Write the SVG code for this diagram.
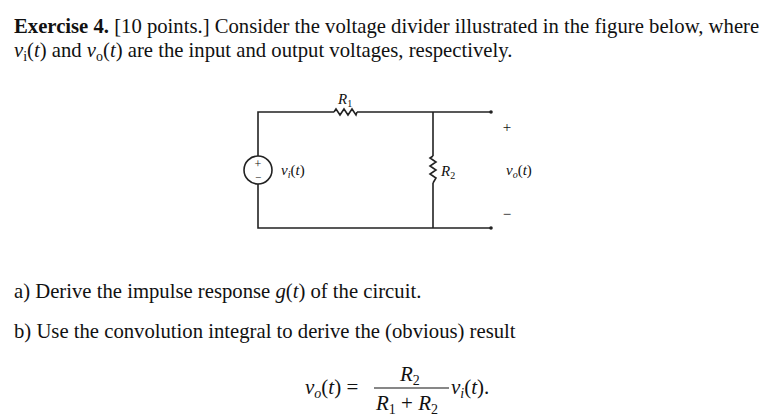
<svg xmlns="http://www.w3.org/2000/svg" width="772" height="420" viewBox="0 0 772 420">
<style>
text{font-family:"Liberation Serif",serif;fill:#111}
.t{font-size:20.7px}
.w{fill:none;stroke:#222;stroke-width:1.6}
.s{font-size:15px}
.m{font-size:21px}
</style>
<rect width="772" height="420" fill="#fff"/>
<text class="t" x="14" y="33"><tspan font-weight="bold">Exercise 4.</tspan> [10 points.] Consider the voltage divider illustrated in the figure below, where</text>
<text class="t" x="14" y="57"><tspan font-style="italic">v</tspan><tspan font-size="14" dy="4">i</tspan><tspan dy="-4">(</tspan><tspan font-style="italic">t</tspan>) and <tspan font-style="italic">v</tspan><tspan font-size="14" dy="4">o</tspan><tspan dy="-4">(</tspan><tspan font-style="italic">t</tspan>) are the input and output voltages, respectively.</text>
<g id="connectors">
<path class="w" d="M258 156 V112 H334 M357 112 H491 M433 112 V156 M433 183 V228 M258 184 V228 H491"/>
</g>
<g id="R1"><path class="w" d="M334 112 l2 -3 l4 6 l4 -6 l4 6 l4 -6 l4 6 l1 -3"/><text class="s" x="338" y="104" font-style="italic">R<tspan font-size="10" dy="3" font-style="normal">1</tspan></text></g>
<g id="R2"><path class="w" d="M433 156 l-3 2 l6 4 l-6 4 l6 4 l-6 4 l6 4 l-3 5"/><text class="s" x="441" y="176" font-style="italic">R<tspan font-size="10" dy="3" font-style="normal">2</tspan></text></g>
<g id="source"><circle class="w" cx="258" cy="170" r="14"/><text x="258" y="168" font-size="12" text-anchor="middle">+</text><text x="258" y="181" font-size="11" text-anchor="middle">−</text><text class="s" x="281" y="175" font-style="italic">v<tspan font-size="10" dy="3">i</tspan><tspan dy="-3" font-style="normal">(</tspan>t<tspan font-style="normal">)</tspan></text></g>
<g id="terminals"><circle cx="491" cy="112" r="1.8" fill="#222"/><circle cx="491" cy="228" r="1.8" fill="#222"/>
<text x="507" y="132" font-size="15" text-anchor="middle">+</text><text x="507" y="219" font-size="15" text-anchor="middle">−</text>
<text class="s" x="506" y="175" font-style="italic">v<tspan font-size="10" dy="3">o</tspan><tspan dy="-3" font-style="normal">(</tspan>t<tspan font-style="normal">)</tspan></text></g>
<text class="t" x="14" y="298">a) Derive the impulse response <tspan font-style="italic">g</tspan>(<tspan font-style="italic">t</tspan>) of the circuit.</text>
<text class="t" x="14" y="338">b) Use the convolution integral to derive the (obvious) result</text>
<text class="m" x="305" y="394"><tspan font-style="italic">v</tspan><tspan font-size="14" dy="4" font-style="italic">o</tspan><tspan dy="-4">(</tspan><tspan font-style="italic">t</tspan>) =</text>
<text class="m" x="400" y="381" font-style="italic">R<tspan font-size="14" dy="4" font-style="normal">2</tspan></text>
<line x1="374" y1="388" x2="449" y2="388" stroke="#111" stroke-width="1.2"/>
<text class="m" x="376" y="410" font-style="italic">R<tspan font-size="14" dy="4" font-style="normal">1</tspan><tspan dy="-4" font-style="normal"> + </tspan>R<tspan font-size="14" dy="4" font-style="normal">2</tspan></text>
<text class="m" x="451" y="394"><tspan font-style="italic">v</tspan><tspan font-size="14" dy="4" font-style="italic">i</tspan><tspan dy="-4">(</tspan><tspan font-style="italic">t</tspan>).</text>
</svg>
